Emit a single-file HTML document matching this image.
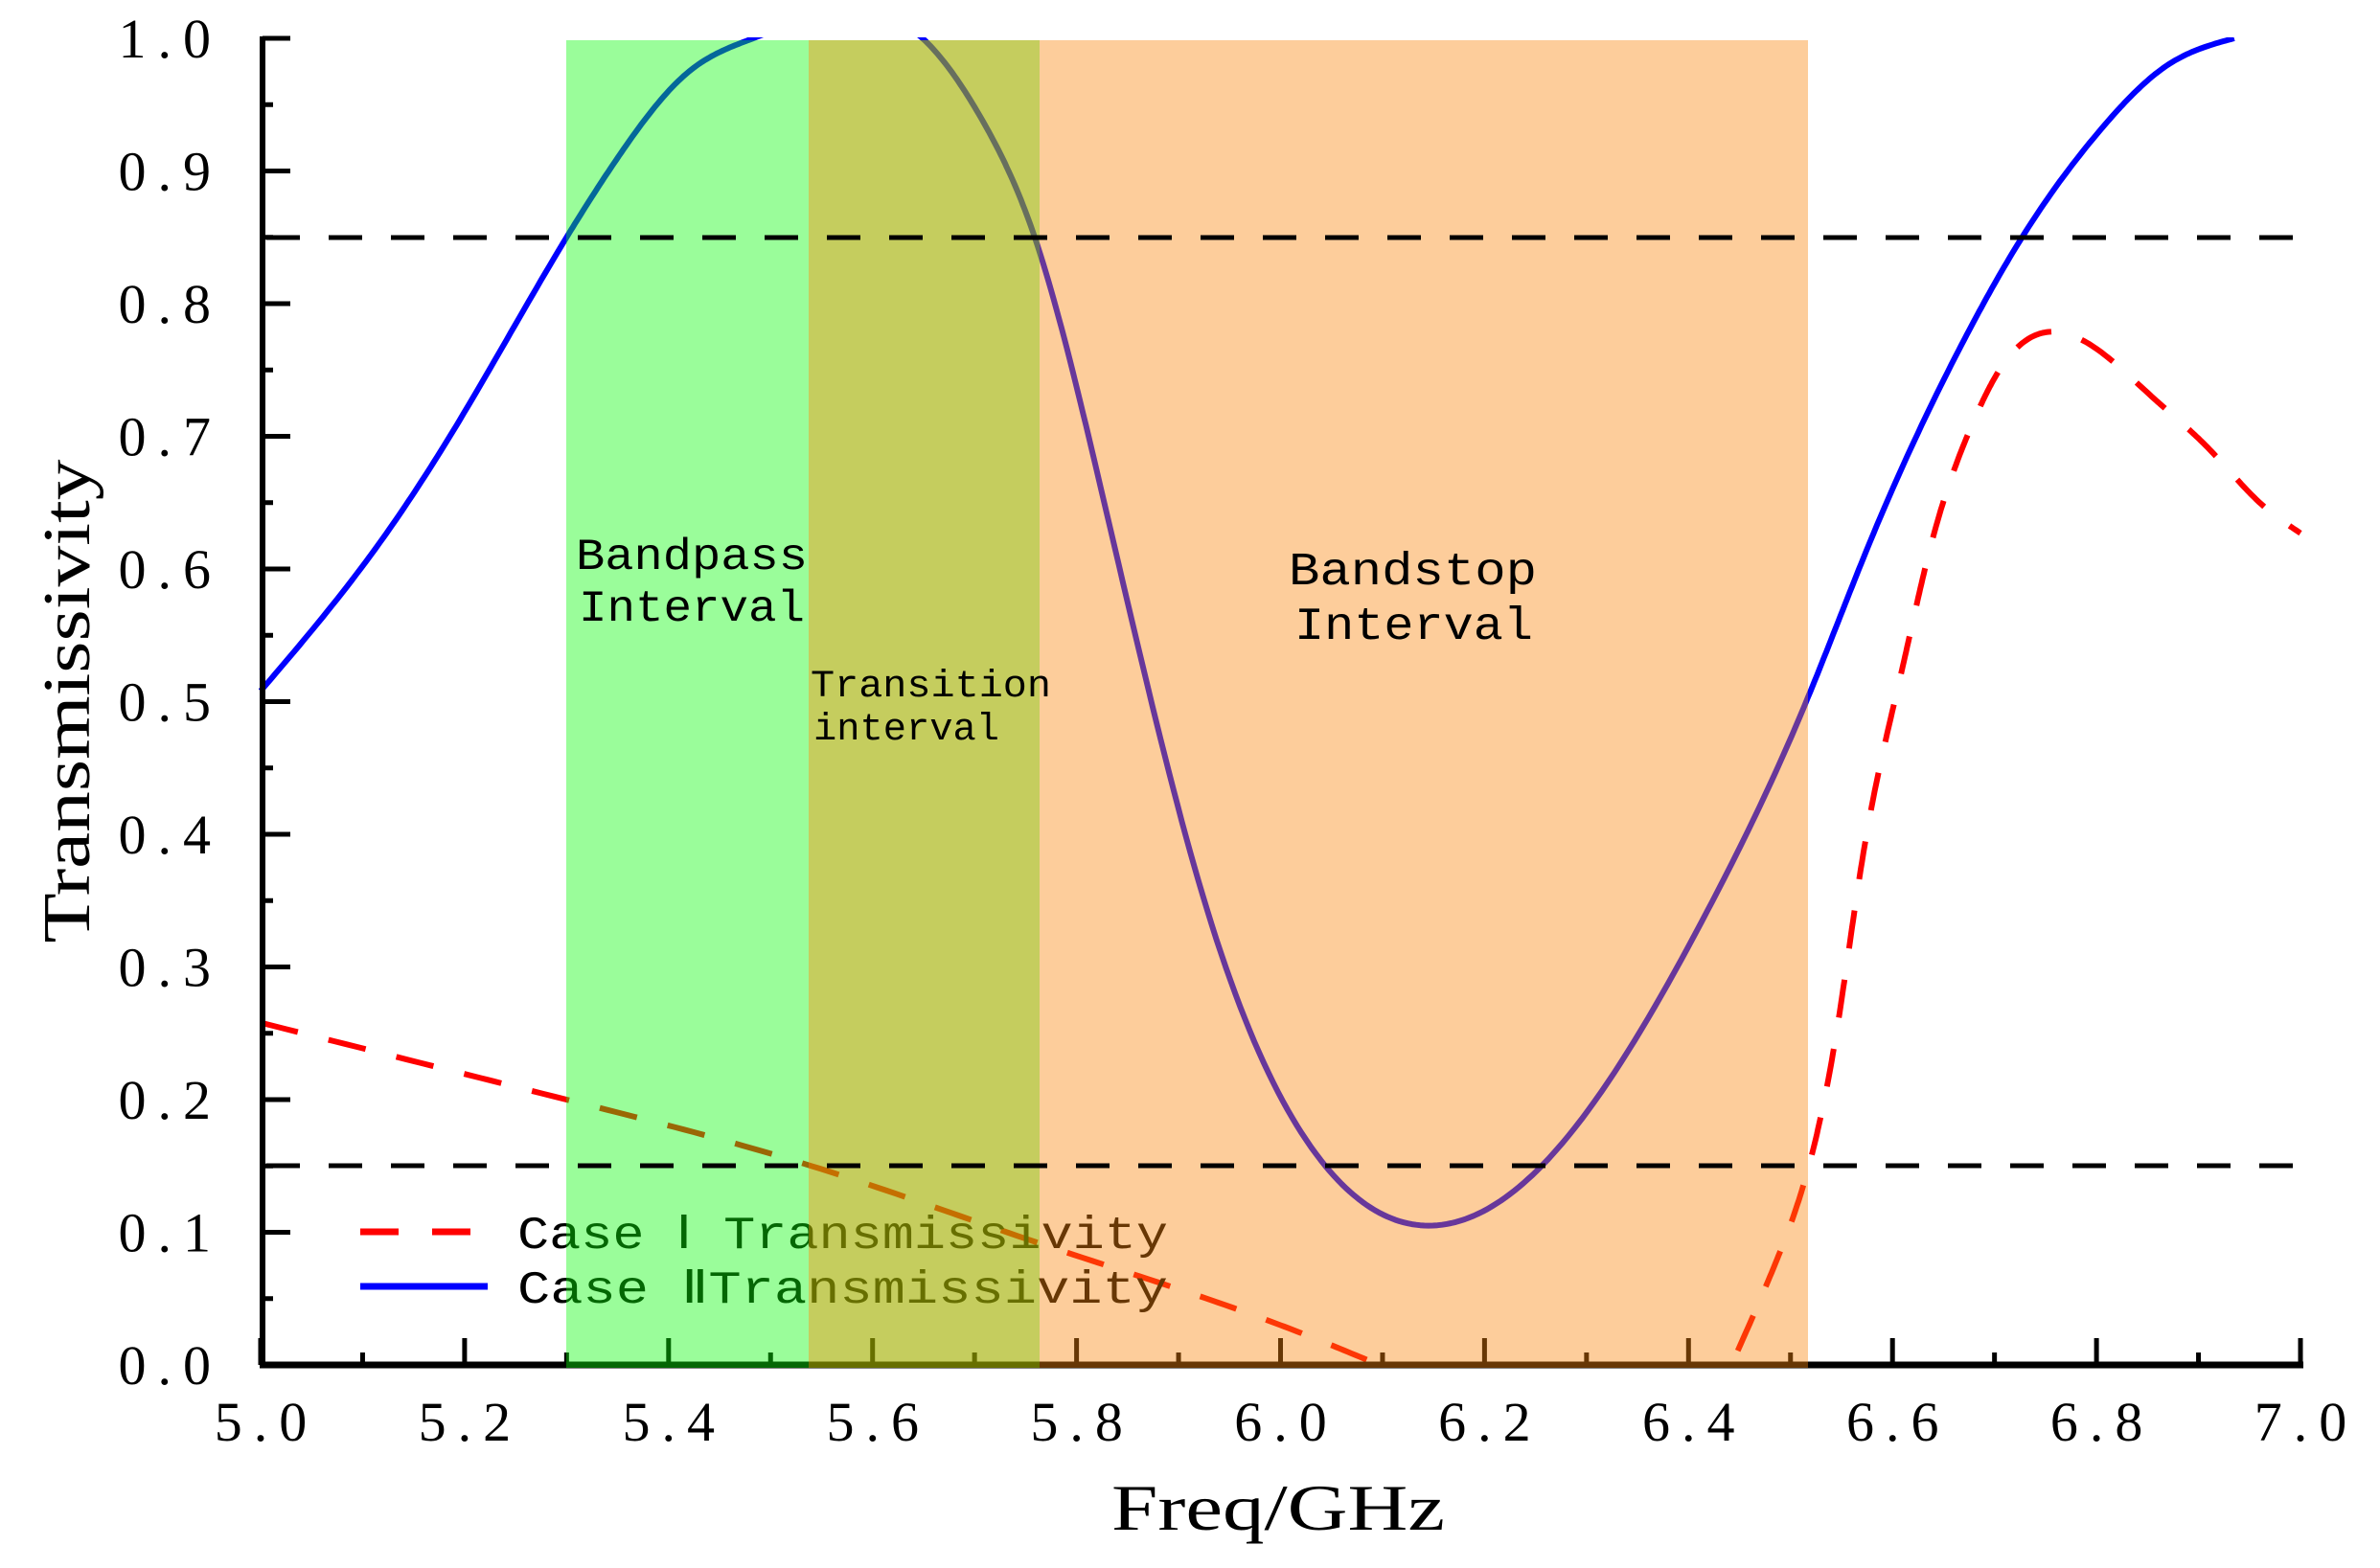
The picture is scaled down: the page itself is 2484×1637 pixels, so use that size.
<!DOCTYPE html>
<html><head><meta charset="utf-8"><style>
html,body{margin:0;padding:0;background:#fff;}
svg{display:block;}
text{font-family:"Liberation Serif",serif;fill:#000;}
.m{font-family:"Liberation Mono",monospace;}
</style></head><body>
<svg id="s" width="2484" height="1637" viewBox="0 0 2484 1637" xmlns="http://www.w3.org/2000/svg">
<defs><clipPath id="cp"><rect x="270" y="39" width="2150" height="1400"/></clipPath></defs>
<g id="under" clip-path="url(#cp)"></g>
<!-- axes -->
<line x1="274" y1="38" x2="274" y2="1428" stroke="#000" stroke-width="6"/>
<line x1="271" y1="1425" x2="2404" y2="1425" stroke="#000" stroke-width="7"/>
<g id="ticks" stroke="#000" stroke-width="5"></g>
<!-- legend -->
<line x1="376" y1="1286" x2="507" y2="1286" stroke="#f00" stroke-width="7" stroke-dasharray="40,35"/>
<line x1="376" y1="1343" x2="509" y2="1343" stroke="#00f" stroke-width="7"/>
<text class="m" x="540" y="1303" font-size="48" textLength="679" lengthAdjust="spacingAndGlyphs">Case Ⅰ Transmissivity</text>
<text class="m" x="540" y="1360" font-size="48" textLength="679" lengthAdjust="spacingAndGlyphs">Case ⅡTransmissivity</text>
<!-- bands -->
<rect x="591" y="42" width="253" height="1386" fill="rgb(10,249,10)" fill-opacity="0.41"/>
<rect x="844" y="42" width="241" height="1386" fill="rgb(163,176,0)" fill-opacity="0.63"/>
<rect x="1085" y="42" width="802" height="1386" fill="rgb(251,134,12)" fill-opacity="0.41"/>
<!-- threshold lines -->
<line x1="278" y1="248" x2="2406" y2="248" stroke="#000" stroke-width="5" stroke-dasharray="35,30"/>
<line x1="278" y1="1217" x2="2406" y2="1217" stroke="#000" stroke-width="5" stroke-dasharray="35,30"/>
<!-- annotations -->
<text class="m" x="601" y="594" font-size="46" textLength="242" lengthAdjust="spacingAndGlyphs">Bandpass</text>
<text class="m" x="604" y="648" font-size="46" textLength="236" lengthAdjust="spacingAndGlyphs">Interval</text>
<text class="m" x="846" y="727" font-size="40" textLength="251" lengthAdjust="spacingAndGlyphs">Transition</text>
<text class="m" x="849" y="772" font-size="40" textLength="194" lengthAdjust="spacingAndGlyphs">interval</text>
<text class="m" x="1345" y="610" font-size="48" textLength="259" lengthAdjust="spacingAndGlyphs">Bandstop</text>
<text class="m" x="1351" y="667" font-size="48" textLength="249" lengthAdjust="spacingAndGlyphs">Interval</text>
<g id="labels"></g>
<text x="1334" y="1597" font-size="68" text-anchor="middle" textLength="348" lengthAdjust="spacingAndGlyphs">Freq/GHz</text>
<text transform="translate(93,732) rotate(-90)" font-size="70" text-anchor="middle" textLength="505" lengthAdjust="spacingAndGlyphs">Transmissivity</text>
</svg>
<script>
var NS="http://www.w3.org/2000/svg";
function X(f){return 272+(f-5)*1064.5;}
function Y(v){return 1425-1385*v;}
function spline(pts,clampLo){
  var n=pts.length,x=pts.map(function(p){return p[0];}),y=pts.map(function(p){return p[1];});
  var h=[],al=[],l=[1],mu=[0],z=[0],c=new Array(n).fill(0),b=[],d=[];
  for(var i=0;i<n-1;i++)h[i]=x[i+1]-x[i];
  for(var i=1;i<n-1;i++)al[i]=3/h[i]*(y[i+1]-y[i])-3/h[i-1]*(y[i]-y[i-1]);
  for(var i=1;i<n-1;i++){l[i]=2*(x[i+1]-x[i-1])-h[i-1]*mu[i-1];mu[i]=h[i]/l[i];z[i]=(al[i]-h[i-1]*z[i-1])/l[i];}
  l[n-1]=1;z[n-1]=0;c[n-1]=0;
  for(var j=n-2;j>=0;j--){c[j]=z[j]-mu[j]*c[j+1];b[j]=(y[j+1]-y[j])/h[j]-h[j]*(c[j+1]+2*c[j])/3;d[j]=(c[j+1]-c[j])/(3*h[j]);}
  var out=[];
  for(var i=0;i<n-1;i++){for(var k=0;k<25;k++){var dx=h[i]*k/25,v=y[i]+b[i]*dx+c[i]*dx*dx+d[i]*dx*dx*dx;if(clampLo&&v<0)v=0;out.push(X(x[i]+dx).toFixed(1)+","+Y(v).toFixed(1));}}
  out.push(X(x[n-1]).toFixed(1)+","+Y(y[n-1]).toFixed(1));
  return out;
}
var blue=[[5.0,.508],[5.117,.62],[5.195,.712],[5.3,.85],[5.351,.911],[5.42,.975],[5.483,1.0],[5.566,1.02],[5.649,1.0],[5.71,.935],[5.759,.85],[5.825,.657],[5.928,.343],[6.044,.15],[6.145,.105],[6.256,.15],[6.419,.343],[6.517,.503],[6.574,.613],[6.665,.765],[6.727,.85],[6.805,.932],[6.87,.98],[6.935,1.0]];
var red1=[[5.0,.258],[5.3,.2],[5.54,.15],[5.77,.09],[6.0,.03],[6.097,0]];
var red2=[[6.442,0],[6.487,.08],[6.518,.15],[6.546,.255],[6.57,.379],[6.609,.523],[6.636,.613],[6.677,.707],[6.704,.749],[6.776,.776],[6.857,.728],[6.911,.69],[6.96,.65],[7.0,.627]];
var u=document.getElementById("under");
function pl(pts,col,dash){var e=document.createElementNS(NS,"polyline");e.setAttribute("points",pts.join(" "));e.setAttribute("fill","none");e.setAttribute("stroke",col);e.setAttribute("stroke-width","6");e.setAttribute("stroke-linejoin","round");if(dash)e.setAttribute("stroke-dasharray",dash);u.appendChild(e);}
pl(spline(blue,false),"#0000ff",null);
var r=spline(red1,true).concat(spline(red2,true));
pl(r,"#ff0000","40,33");
var tg=document.getElementById("ticks"),lg=document.getElementById("labels");
function ln(x1,y1,x2,y2){var e=document.createElementNS(NS,"line");e.setAttribute("x1",x1);e.setAttribute("y1",y1);e.setAttribute("x2",x2);e.setAttribute("y2",y2);tg.appendChild(e);}
function tx(x,y,s,a,fs,ls){var e=document.createElementNS(NS,"text");e.setAttribute("x",x);e.setAttribute("y",y);e.setAttribute("text-anchor",a);e.setAttribute("font-size",fs);e.setAttribute("letter-spacing",ls);e.textContent=s;lg.appendChild(e);}
for(var i=0;i<=20;i++){var f=5+i*0.1,x=X(f);if(i%2==0){ln(x,1425,x,1397);tx(x+6,1504,f.toFixed(1),"middle",58,"12");}else ln(x,1425,x,1412);}
for(var i=0;i<=20;i++){var v=i*0.05,y=Y(v);if(i%2==0){ln(274,y,303,y);tx(232,y+20,v.toFixed(1),"end",58,"12");}else ln(274,y,285,y);}
</script>
</body></html>
